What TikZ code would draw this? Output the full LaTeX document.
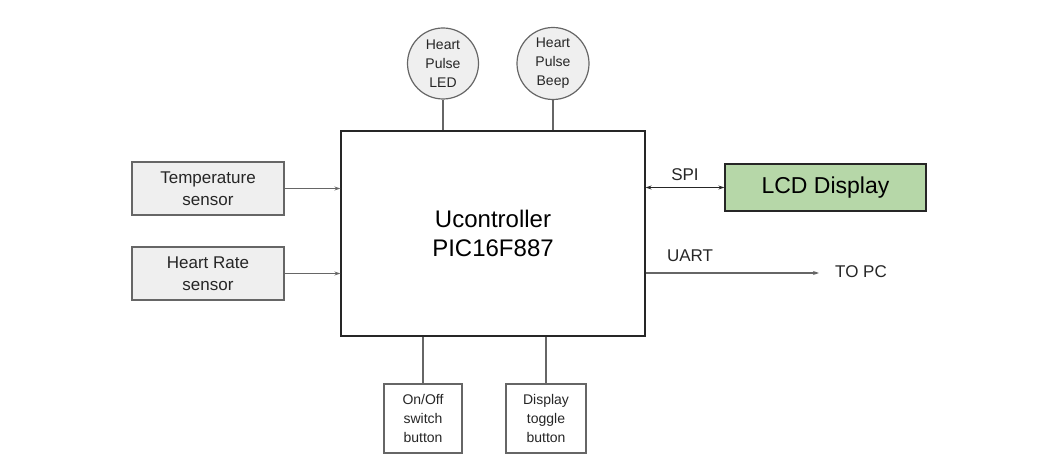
\documentclass[tikz,border=0pt]{standalone}
\usepackage{fontspec}
\setmainfont{Liberation Sans}
\usetikzlibrary{arrows.meta}
\definecolor{gfill}{HTML}{EFEFEF}
\definecolor{lcd}{HTML}{B6D7A8}
\definecolor{ln}{HTML}{666666}
\begin{document}
\begin{tikzpicture}[x=1pt,y=-1pt,
  box/.style={draw=ln,line width=1.2pt,inner sep=0pt,align=center,text=black!85},
  conn/.style={draw=ln,line width=1.2pt},
  arr/.style={conn,-{Stealth[length=6pt,width=4pt]}}]
\useasboundingbox (0,0) rectangle (1037,473);
\node[draw=black!85,line width=1.3pt,minimum width=304pt,minimum height=205pt,font=\fontsize{24}{29}\selectfont,align=center] (mc) at (493,233.5) {Ucontroller\\PIC16F887};
\node[box,fill=gfill,minimum width=152pt,minimum height=53pt,font=\fontsize{17}{22}\selectfont] (temp) at (208,188.5) {Temperature\\sensor};
\node[box,fill=gfill,minimum width=152pt,minimum height=53pt,font=\fontsize{17}{22}\selectfont] (hr) at (208,273.5) {Heart Rate\\sensor};
\node[box,circle,fill=gfill,minimum size=71pt,font=\fontsize{14}{19}\selectfont] (led) at (443,63.5) {Heart\\Pulse\\LED};
\node[box,circle,fill=gfill,minimum size=72pt,font=\fontsize{14}{19}\selectfont] (beep) at (553,63.5) {Heart\\Pulse\\Beep};
\node[draw=black!85,line width=1.3pt,fill=lcd,minimum width=201pt,minimum height=47pt,font=\fontsize{23}{28}\selectfont] (lcd) at (825.5,187.5) {LCD Display};
\node[box,minimum width=78pt,minimum height=69pt,font=\fontsize{14}{19}\selectfont] (onoff) at (423,418.5) {On/Off\\switch\\button};
\node[box,minimum width=80pt,minimum height=69pt,font=\fontsize{14}{19}\selectfont] (disp) at (546,418.5) {Display\\toggle\\button};
\node[font=\fontsize{17}{20}\selectfont,text=black!85] (pc) at (861,272) {TO PC};
\coordinate (pce) at (819,273);
\draw[arr] (temp.east) -- (temp.east -| mc.west);
\draw[arr] (hr.east) -- (hr.east -| mc.west);
\draw[conn] (led.south) -- (led.south |- mc.north);
\draw[conn] (beep.south) -- (beep.south |- mc.north);
\draw[conn] (onoff.north) -- (onoff.north |- mc.south);
\draw[conn] (disp.north) -- (disp.north |- mc.south);
\draw[line width=1.2pt,black!85,{Stealth[length=6pt,width=4pt]}-{Stealth[length=6pt,width=4pt]}] (mc.east |- lcd.west) -- node[above=3pt,font=\fontsize{17}{20}\selectfont] {SPI} (lcd.west);
\draw[arr] (mc.east |- pce) -- (pce);
\node[font=\fontsize{17}{20}\selectfont,text=black!85] at (690,256) {UART};
\end{tikzpicture}
\end{document}
